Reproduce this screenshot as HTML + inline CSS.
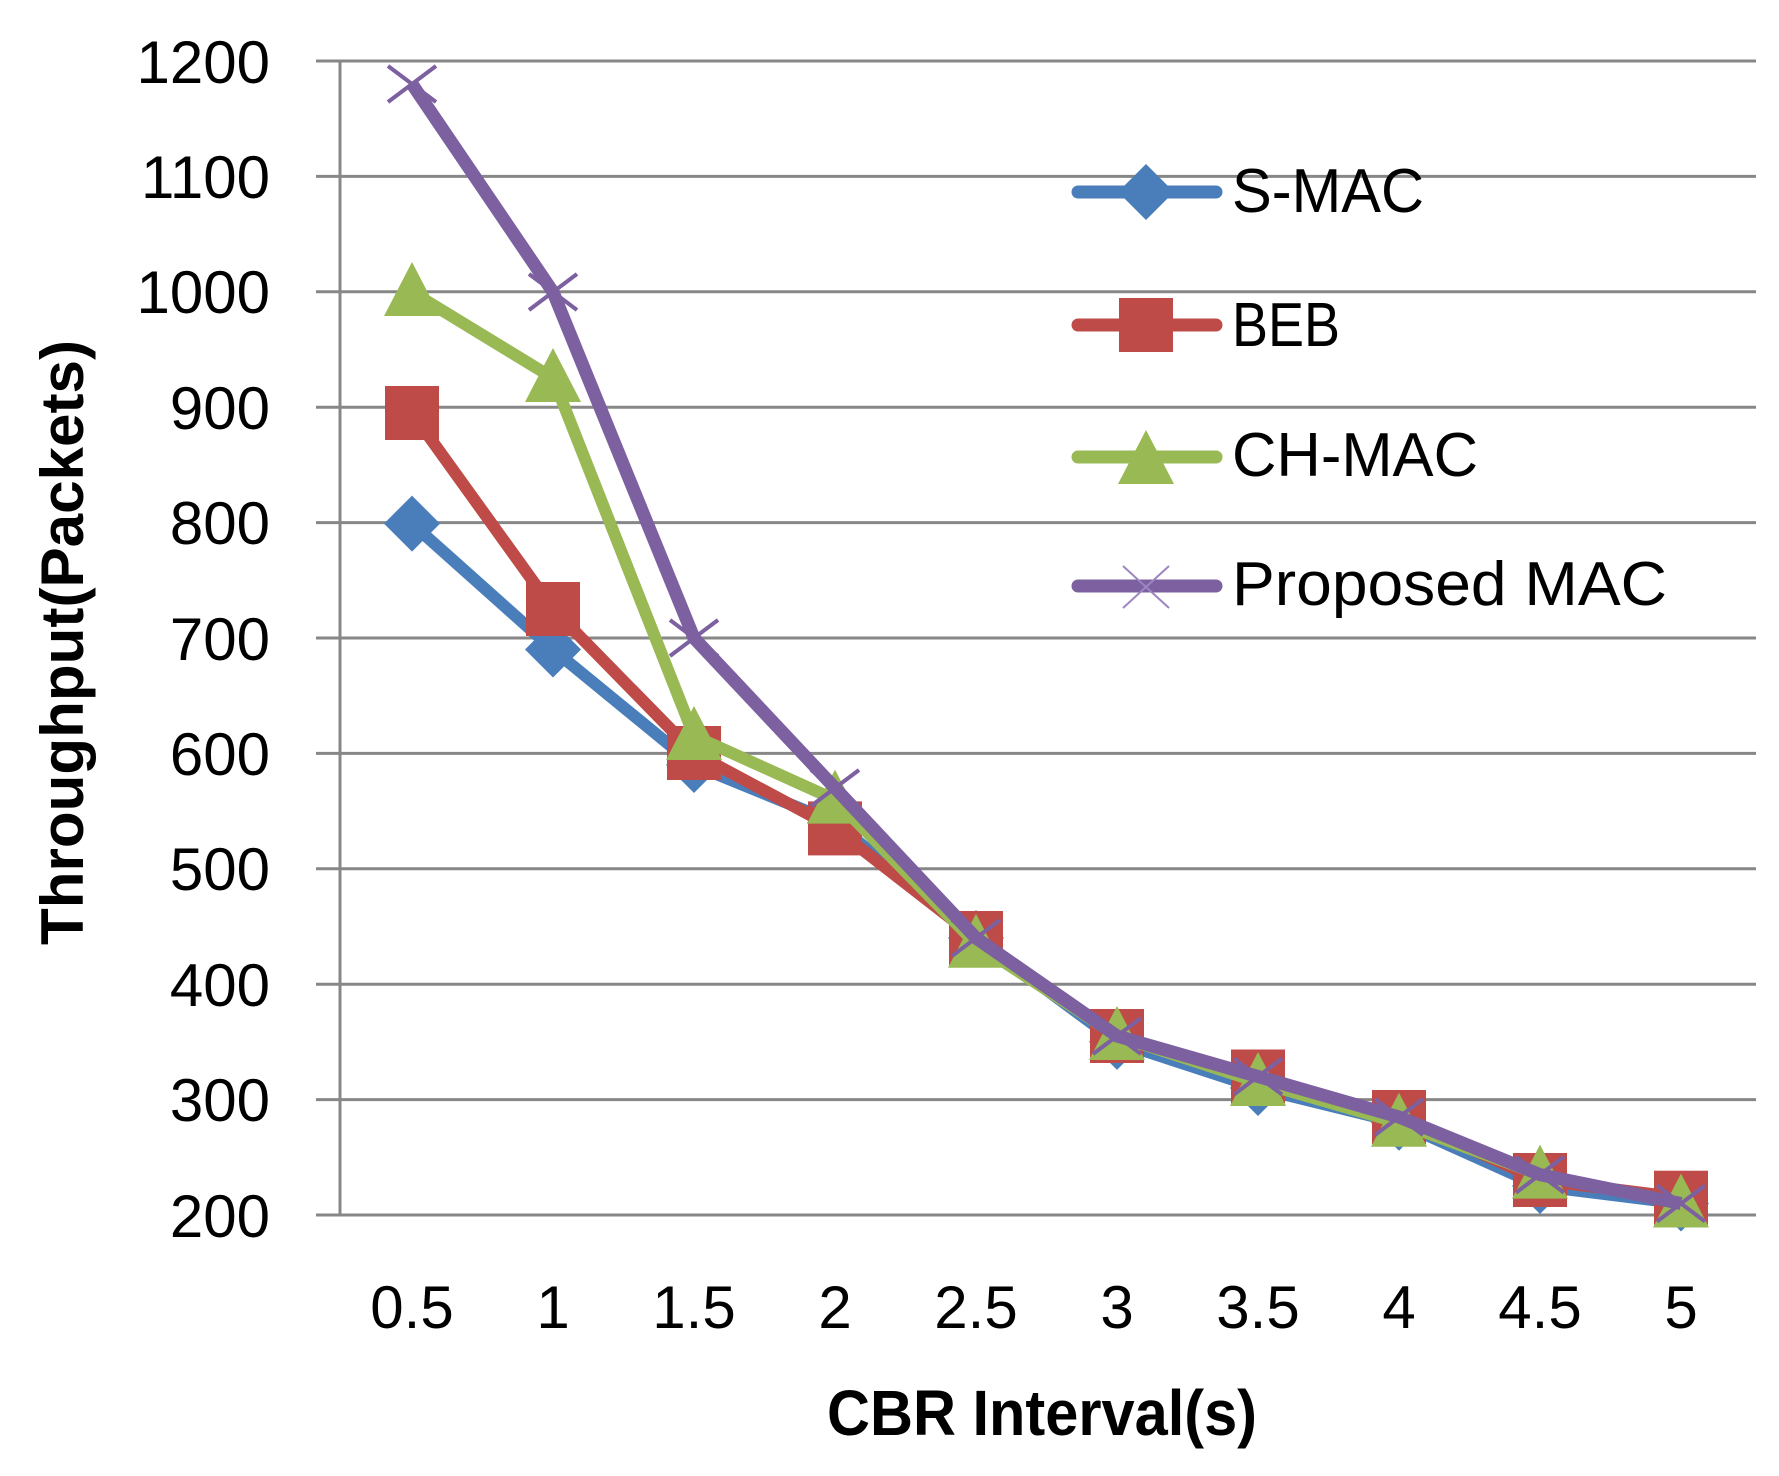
<!DOCTYPE html>
<html><head><meta charset="utf-8"><style>html,body{margin:0;padding:0;background:#fff}svg{display:block}</style></head>
<body>
<svg width="1779" height="1476" viewBox="0 0 1779 1476" xmlns="http://www.w3.org/2000/svg">
<defs>
<path id="dia" d="M0,-28 L28,0 L0,28 L-28,0 Z" fill="#4a7ebb"/>
<rect id="sq" x="-27" y="-27" width="54" height="54" fill="#be4b48"/>
<path id="tri" d="M0,-30 L28,24 L-28,24 Z" fill="#98b954"/>
<g id="xm" stroke="#7d60a0" stroke-width="4"><line x1="-24" y1="-18" x2="24" y2="18"/><line x1="-24" y1="18" x2="24" y2="-18"/></g>
</defs>
<g stroke="#878787" stroke-width="3">
<line x1="316" y1="61" x2="1756" y2="61"/>
<line x1="316" y1="176.4" x2="1756" y2="176.4"/>
<line x1="316" y1="291.8" x2="1756" y2="291.8"/>
<line x1="316" y1="407.2" x2="1756" y2="407.2"/>
<line x1="316" y1="522.6" x2="1756" y2="522.6"/>
<line x1="316" y1="638" x2="1756" y2="638"/>
<line x1="316" y1="753.4" x2="1756" y2="753.4"/>
<line x1="316" y1="868.8" x2="1756" y2="868.8"/>
<line x1="316" y1="984.2" x2="1756" y2="984.2"/>
<line x1="316" y1="1099.6" x2="1756" y2="1099.6"/>
<line x1="316" y1="1215" x2="1756" y2="1215"/>
<line x1="340" y1="61" x2="340" y2="1215"/>
</g>
<g font-family="Liberation Sans, sans-serif" font-size="60" fill="#000" text-anchor="end">
<text x="270" y="83">1200</text><text x="270" y="198">1100</text><text x="270" y="313">1000</text>
<text x="270" y="429">900</text><text x="270" y="544">800</text><text x="270" y="660">700</text>
<text x="270" y="775">600</text><text x="270" y="890">500</text><text x="270" y="1006">400</text>
<text x="270" y="1121">300</text><text x="270" y="1237">200</text>
</g>
<g font-family="Liberation Sans, sans-serif" font-size="60" fill="#000" text-anchor="middle">
<text x="412" y="1328">0.5</text><text x="553" y="1328">1</text><text x="694" y="1328">1.5</text>
<text x="835" y="1328">2</text><text x="976" y="1328">2.5</text><text x="1117" y="1328">3</text>
<text x="1258" y="1328">3.5</text><text x="1399" y="1328">4</text><text x="1540" y="1328">4.5</text>
<text x="1681" y="1328">5</text>
</g>
<text x="827" y="1435" font-family="Liberation Sans, sans-serif" font-weight="bold" font-size="64" textLength="430" lengthAdjust="spacingAndGlyphs">CBR Interval(s)</text>
<text transform="translate(83,945) rotate(-90)" font-family="Liberation Sans, sans-serif" font-weight="bold" font-size="60" textLength="605" lengthAdjust="spacingAndGlyphs">Throughput(Packets)</text>

<g fill="none" stroke-width="12" stroke-linejoin="round" stroke-linecap="round">
<polyline stroke="#4a7ebb" points="412,523.6 553,649.5 694,765 835,822.6 976,938 1117,1041.9 1258,1088 1399,1122.7 1540,1186 1681,1203.5"/>
</g>
<g><use href="#dia" x="412" y="523.6"/><use href="#dia" x="553" y="649.5"/><use href="#dia" x="694" y="765"/><use href="#dia" x="835" y="822.6"/><use href="#dia" x="976" y="938"/><use href="#dia" x="1117" y="1041.9"/><use href="#dia" x="1258" y="1088"/><use href="#dia" x="1399" y="1122.7"/><use href="#dia" x="1540" y="1186"/><use href="#dia" x="1681" y="1203.5"/></g>
<polyline fill="none" stroke="#be4b48" stroke-width="12" stroke-linejoin="round" points="412,413 553,609 694,753 835,828.4 976,938 1117,1036 1258,1076.5 1399,1117 1540,1180 1681,1197.7"/>
<g><use href="#sq" x="412" y="413"/><use href="#sq" x="553" y="609"/><use href="#sq" x="694" y="753"/><use href="#sq" x="835" y="828.4"/><use href="#sq" x="976" y="938"/><use href="#sq" x="1117" y="1036"/><use href="#sq" x="1258" y="1076.5"/><use href="#sq" x="1399" y="1117"/><use href="#sq" x="1540" y="1180"/><use href="#sq" x="1681" y="1197.7"/></g>
<polyline fill="none" stroke="#98b954" stroke-width="12" stroke-linejoin="round" points="412,292 553,378 694,736 835,799.6 976,943.8 1117,1036 1258,1082 1399,1122.7 1540,1174.6 1681,1203.5"/>
<g><use href="#tri" x="412" y="292"/><use href="#tri" x="553" y="378"/><use href="#tri" x="694" y="736"/><use href="#tri" x="835" y="799.6"/><use href="#tri" x="976" y="943.8"/><use href="#tri" x="1117" y="1036"/><use href="#tri" x="1258" y="1082"/><use href="#tri" x="1399" y="1122.7"/><use href="#tri" x="1540" y="1174.6"/><use href="#tri" x="1681" y="1203.5"/></g>
<polyline fill="none" stroke="#7d60a0" stroke-width="13" stroke-linejoin="round" points="412,84 553,292 694,638 835,788 976,938 1117,1036 1258,1076.5 1399,1117 1540,1174.6 1681,1203.5"/>
<g><use href="#xm" x="412" y="84"/><use href="#xm" x="553" y="292"/><use href="#xm" x="694" y="638"/><use href="#xm" x="835" y="788"/><use href="#xm" x="976" y="938"/><use href="#xm" x="1117" y="1036"/><use href="#xm" x="1258" y="1076.5"/><use href="#xm" x="1399" y="1117"/><use href="#xm" x="1540" y="1174.6"/><use href="#xm" x="1681" y="1203.5"/></g>

<g stroke-width="13" stroke-linecap="round">
<line x1="1078" y1="192" x2="1216" y2="192" stroke="#4a7ebb"/>
<line x1="1078" y1="325" x2="1216" y2="325" stroke="#be4b48"/>
<line x1="1078" y1="457" x2="1216" y2="457" stroke="#98b954"/>
<line x1="1078" y1="586" x2="1216" y2="586" stroke="#7d60a0"/>
</g>
<use href="#dia" x="1146" y="192"/><use href="#sq" x="1146" y="325"/><use href="#tri" x="1146" y="460"/>
<g stroke="#9d85c0" stroke-width="2"><line x1="1123" y1="566" x2="1169" y2="608"/><line x1="1123" y1="608" x2="1169" y2="566"/></g>
<g font-family="Liberation Sans, sans-serif" font-size="62" fill="#000">
<text x="1232" y="212" textLength="192" lengthAdjust="spacingAndGlyphs">S-MAC</text>
<text x="1232" y="346" textLength="108" lengthAdjust="spacingAndGlyphs">BEB</text>
<text x="1232" y="476" textLength="246" lengthAdjust="spacingAndGlyphs">CH-MAC</text>
<text x="1232" y="605" textLength="435" lengthAdjust="spacingAndGlyphs">Proposed MAC</text>
</g>
</svg>
</body></html>
